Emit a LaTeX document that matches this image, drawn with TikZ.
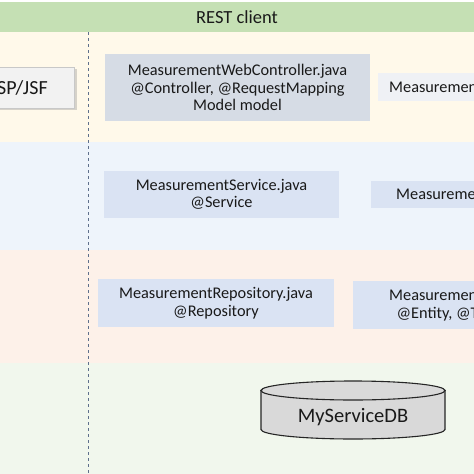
\documentclass[tikz,border=0pt]{standalone}
\usepackage{fontspec}
\setmainfont{Carlito}
\usetikzlibrary{shadows}
\definecolor{topgreen}{RGB}{197,224,180}
\definecolor{bandyellow}{RGB}{255,249,234}
\definecolor{bandblue}{RGB}{238,244,251}
\definecolor{bandpeach}{RGB}{253,241,233}
\definecolor{bandgreen}{RGB}{241,247,237}
\definecolor{ctrlfill}{RGB}{214,220,229}
\definecolor{boxfill}{RGB}{218,227,243}
\definecolor{lightfill}{RGB}{239,241,245}
\definecolor{jspfill}{RGB}{242,242,242}
\definecolor{jspline}{RGB}{200,200,200}
\definecolor{dashcol}{RGB}{95,112,140}
\definecolor{dbfill}{RGB}{217,217,217}
\definecolor{txt}{RGB}{25,25,25}
\begin{document}
\begin{tikzpicture}[x=1pt,y=-1pt,
  bodytext/.style={font=\fontsize{16.3}{17.6}\selectfont, text=txt},
  layerbox/.style={bodytext, inner sep=0pt, align=center},
  dashline/.style={draw=dashcol, line width=0.9pt, dash pattern=on 3pt off 3pt},
  dbshape/.style={draw=black!85, fill=dbfill, line width=1.1pt}]
\useasboundingbox (0,0) rectangle (474,474);
\clip (0,0) rectangle (474,474);
\fill[white] (0,0) rectangle (474,474);
\fill[topgreen] (0,2) rectangle (474,32);
\fill[bandyellow] (0,32) rectangle (474,142);
\fill[bandblue] (0,142) rectangle (474,250);
\fill[bandpeach] (0,250) rectangle (474,363);
\fill[bandgreen] (0,363) rectangle (474,474);
\node[font=\fontsize{18.5}{22}\selectfont, text=txt] (rest) at (237,17) {REST client};
\coordinate (dtop) at (88,32);
\coordinate (dbot) at (88,474);
\draw[dashline] (dtop) -- (dbot);
\node[font=\fontsize{20}{24}\selectfont, text=txt, fill=jspfill, draw=jspline, line width=0.6pt,
  anchor=east, inner xsep=27pt, inner ysep=0pt, minimum height=41pt,
  drop shadow={shadow xshift=2pt, shadow yshift=-2pt, opacity=0.35, fill=black!45}] (jsp) at (75,87.5) {JSP/JSF};
\node[layerbox, fill=ctrlfill, minimum width=265pt, minimum height=67pt] (ctrl) at (237.5,87.5)
  {MeasurementWebController.java\\@Controller, @RequestMapping\\Model model};
\node[layerbox, fill=lightfill, anchor=west, inner xsep=11pt, minimum height=28pt] (ctrlr) at (378,87) {Measurement};
\node[layerbox, fill=boxfill, minimum width=235pt, minimum height=47pt] (svc) at (221.5,194.5)
  {MeasurementService.java\\@Service};
\node[layerbox, fill=boxfill, anchor=west, inner xsep=25pt, minimum height=27pt] (svcr) at (371,194.5) {Measurement};
\node[layerbox, fill=boxfill, minimum width=236pt, minimum height=48pt] (repo) at (216,303)
  {MeasurementRepository.java\\@Repository};
\node[layerbox, fill=boxfill, anchor=west, inner xsep=36pt, minimum height=48pt] (ent) at (353,305)
  {Measurement.java\\@Entity, @Table};
\path[dbshape] (261,390.5) -- (261,429.5) arc[start angle=180, end angle=360, x radius=92pt, y radius=9.5pt] -- (445,390.5) -- cycle;
\path[dbshape] (353,390.5) ellipse [x radius=92pt, y radius=9.5pt];
\node[font=\fontsize{20.5}{24}\selectfont, text=txt] (db) at (353,417) {MyServiceDB};
\end{tikzpicture}
\end{document}
